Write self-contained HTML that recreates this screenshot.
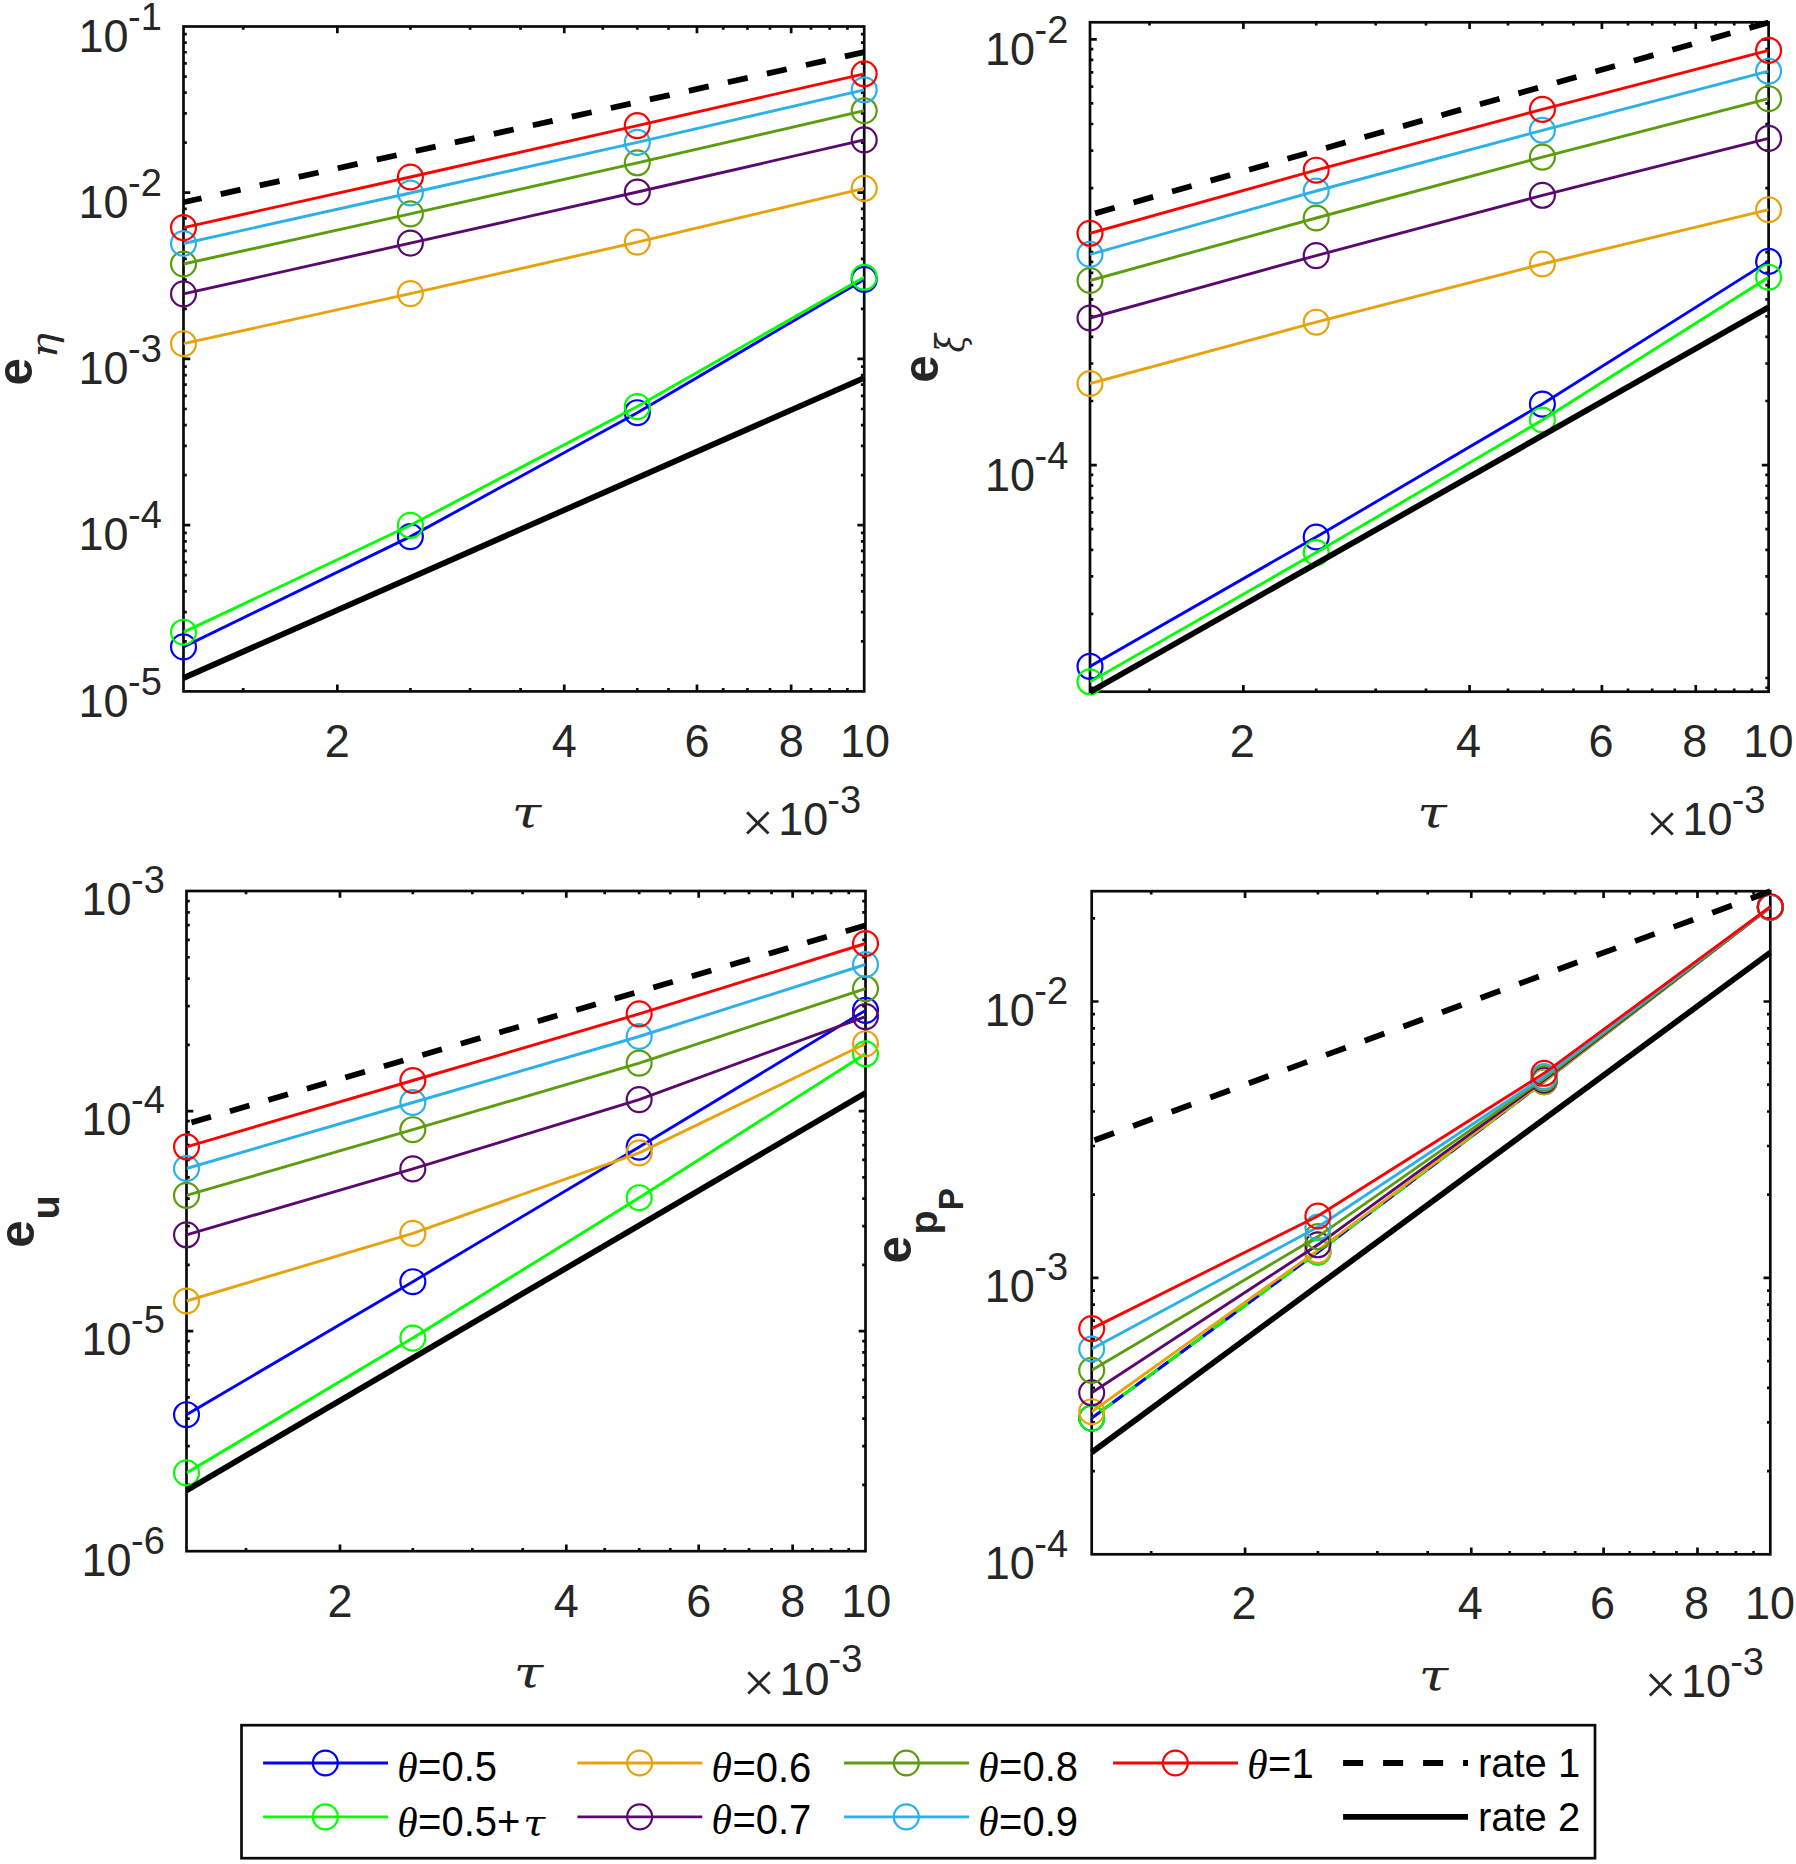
<!DOCTYPE html>
<html lang="en"><head><meta charset="utf-8"><title>Convergence rates</title>
<style>html,body{margin:0;padding:0;background:#fff}svg{display:block}</style></head><body>
<svg width="1796" height="1864" viewBox="0 0 1796 1864" role="img" aria-label="Convergence rates">
<rect width="1796" height="1864" fill="#fff"/>
<g id="plot1">
<clipPath id="c1"><rect x="183.5" y="26.5" width="680.7" height="664.9"/></clipPath>
<g stroke="#0a0a0a" stroke-width="2.7" fill="none">
<rect x="183.5" y="26.5" width="680.7" height="664.9"/>
<path d="M337.35 691.4v-6.8M337.35 26.5v6.8M564.25 691.4v-6.8M564.25 26.5v6.8M696.98 691.4v-6.8M696.98 26.5v6.8M791.15 691.4v-6.8M791.15 26.5v6.8M243.18 691.4v-3.3M243.18 26.5v3.3M410.4 691.4v-3.3M410.4 26.5v3.3M470.08 691.4v-3.3M470.08 26.5v3.3M520.54 691.4v-3.3M520.54 26.5v3.3M602.81 691.4v-3.3M602.81 26.5v3.3M637.3 691.4v-3.3M637.3 26.5v3.3M668.5 691.4v-3.3M668.5 26.5v3.3M723.18 691.4v-3.3M723.18 26.5v3.3M747.44 691.4v-3.3M747.44 26.5v3.3M770.03 691.4v-3.3M770.03 26.5v3.3M811 691.4v-3.3M811 26.5v3.3M829.71 691.4v-3.3M829.71 26.5v3.3M847.41 691.4v-3.3M847.41 26.5v3.3M183.5 641.36h3.3M864.2 641.36h-3.3M183.5 612.09h3.3M864.2 612.09h-3.3M183.5 591.32h3.3M864.2 591.32h-3.3M183.5 575.21h3.3M864.2 575.21h-3.3M183.5 562.05h3.3M864.2 562.05h-3.3M183.5 550.92h3.3M864.2 550.92h-3.3M183.5 541.28h3.3M864.2 541.28h-3.3M183.5 532.78h3.3M864.2 532.78h-3.3M183.5 525.17h6.8M864.2 525.17h-6.8M183.5 475.14h3.3M864.2 475.14h-3.3M183.5 445.87h3.3M864.2 445.87h-3.3M183.5 425.1h3.3M864.2 425.1h-3.3M183.5 408.99h3.3M864.2 408.99h-3.3M183.5 395.83h3.3M864.2 395.83h-3.3M183.5 384.7h3.3M864.2 384.7h-3.3M183.5 375.06h3.3M864.2 375.06h-3.3M183.5 366.56h3.3M864.2 366.56h-3.3M183.5 358.95h6.8M864.2 358.95h-6.8M183.5 308.91h3.3M864.2 308.91h-3.3M183.5 279.64h3.3M864.2 279.64h-3.3M183.5 258.87h3.3M864.2 258.87h-3.3M183.5 242.76h3.3M864.2 242.76h-3.3M183.5 229.6h3.3M864.2 229.6h-3.3M183.5 218.47h3.3M864.2 218.47h-3.3M183.5 208.83h3.3M864.2 208.83h-3.3M183.5 200.33h3.3M864.2 200.33h-3.3M183.5 192.72h6.8M864.2 192.72h-6.8M183.5 142.69h3.3M864.2 142.69h-3.3M183.5 113.42h3.3M864.2 113.42h-3.3M183.5 92.65h3.3M864.2 92.65h-3.3M183.5 76.54h3.3M864.2 76.54h-3.3M183.5 63.38h3.3M864.2 63.38h-3.3M183.5 52.25h3.3M864.2 52.25h-3.3M183.5 42.61h3.3M864.2 42.61h-3.3M183.5 34.11h3.3M864.2 34.11h-3.3"/>
</g>
<g fill="none">
<polyline clip-path="url(#c1)" points="183.5,646.9 410.4,536.6 637.3,412.7 864.2,279.4" stroke="#0000ff" stroke-width="2.9"/>
<g stroke="#0000ff" stroke-width="2.2">
<circle cx="183.5" cy="646.9" r="12.45"/>
<circle cx="410.4" cy="536.6" r="12.45"/>
<circle cx="637.3" cy="412.7" r="12.45"/>
<circle cx="864.2" cy="279.4" r="12.45"/>
</g>
<polyline clip-path="url(#c1)" points="183.5,632.2 410.4,525.3 637.3,406.6 864.2,277.3" stroke="#00ff00" stroke-width="2.9"/>
<g stroke="#00ff00" stroke-width="2.2">
<circle cx="183.5" cy="632.2" r="12.45"/>
<circle cx="410.4" cy="525.3" r="12.45"/>
<circle cx="637.3" cy="406.6" r="12.45"/>
<circle cx="864.2" cy="277.3" r="12.45"/>
</g>
<polyline clip-path="url(#c1)" points="183.5,343.7 410.4,293.6 637.3,242.1 864.2,188.4" stroke="#e8a20c" stroke-width="2.9"/>
<g stroke="#e8a20c" stroke-width="2.2">
<circle cx="183.5" cy="343.7" r="12.45"/>
<circle cx="410.4" cy="293.6" r="12.45"/>
<circle cx="637.3" cy="242.1" r="12.45"/>
<circle cx="864.2" cy="188.4" r="12.45"/>
</g>
<polyline clip-path="url(#c1)" points="183.5,293.9 410.4,243.1 637.3,192 864.2,139.9" stroke="#5a0a6e" stroke-width="2.9"/>
<g stroke="#5a0a6e" stroke-width="2.2">
<circle cx="183.5" cy="293.9" r="12.45"/>
<circle cx="410.4" cy="243.1" r="12.45"/>
<circle cx="637.3" cy="192" r="12.45"/>
<circle cx="864.2" cy="139.9" r="12.45"/>
</g>
<polyline clip-path="url(#c1)" points="183.5,264 410.4,213.9 637.3,162.8 864.2,110.7" stroke="#5b9d0c" stroke-width="2.9"/>
<g stroke="#5b9d0c" stroke-width="2.2">
<circle cx="183.5" cy="264" r="12.45"/>
<circle cx="410.4" cy="213.9" r="12.45"/>
<circle cx="637.3" cy="162.8" r="12.45"/>
<circle cx="864.2" cy="110.7" r="12.45"/>
</g>
<polyline clip-path="url(#c1)" points="183.5,243.5 410.4,193 637.3,142.4 864.2,89.8" stroke="#2bb0ea" stroke-width="2.9"/>
<g stroke="#2bb0ea" stroke-width="2.2">
<circle cx="183.5" cy="243.5" r="12.45"/>
<circle cx="410.4" cy="193" r="12.45"/>
<circle cx="637.3" cy="142.4" r="12.45"/>
<circle cx="864.2" cy="89.8" r="12.45"/>
</g>
<polyline clip-path="url(#c1)" points="183.5,227.6 410.4,177 637.3,125.6 864.2,73.8" stroke="#ff0000" stroke-width="2.9"/>
<g stroke="#ff0000" stroke-width="2.2">
<circle cx="183.5" cy="227.6" r="12.45"/>
<circle cx="410.4" cy="177" r="12.45"/>
<circle cx="637.3" cy="125.6" r="12.45"/>
<circle cx="864.2" cy="73.8" r="12.45"/>
</g>
</g>
<g fill="none" stroke="#000" stroke-width="5.8">
<line x1="183.5" y1="202.25" x2="864.2" y2="52.15" stroke-dasharray="20.29 19.66" stroke-dashoffset="1.85"/>
<line x1="183.5" y1="678" x2="864.2" y2="377.8"/>
</g>
<g font-family='"Liberation Sans", sans-serif' fill="#262626">
<text transform="translate(337.35 757) scale(1 1.041)" font-size="45" text-anchor="middle">2</text>
<text transform="translate(564.25 757) scale(1 1.041)" font-size="45" text-anchor="middle">4</text>
<text transform="translate(696.98 757) scale(1 1.041)" font-size="45" text-anchor="middle">6</text>
<text transform="translate(791.15 757) scale(1 1.041)" font-size="45" text-anchor="middle">8</text>
<text transform="translate(865 757) scale(1 1.041)" font-size="45" text-anchor="middle">10</text>
<text transform="translate(78.6 51.8) scale(1 1.041)" font-size="45">10</text>
<text transform="translate(128.1 29.8) scale(1 1.041)" font-size="38">-1</text>
<text transform="translate(78.6 218.03) scale(1 1.041)" font-size="45">10</text>
<text transform="translate(128.1 196.03) scale(1 1.041)" font-size="38">-2</text>
<text transform="translate(78.6 384.25) scale(1 1.041)" font-size="45">10</text>
<text transform="translate(128.1 362.25) scale(1 1.041)" font-size="38">-3</text>
<text transform="translate(78.6 550.47) scale(1 1.041)" font-size="45">10</text>
<text transform="translate(128.1 528.47) scale(1 1.041)" font-size="38">-4</text>
<text transform="translate(78.6 716.7) scale(1 1.041)" font-size="45">10</text>
<text transform="translate(128.1 694.7) scale(1 1.041)" font-size="38">-5</text>
<text transform="translate(741.4 842.4)" font-family='"Liberation Serif", serif' font-size="57.6">×</text>
<text transform="translate(778.2 835) scale(1 1.041)" font-size="45">10</text>
<text transform="translate(827.3 812.6) scale(1 1.041)" font-size="38">-3</text>
</g>
<text transform="translate(511.7 827) scale(1.25 1)" font-family='"DejaVu Serif", "Liberation Serif", serif' font-size="42.7" font-style="italic" fill="#262626">τ</text>
</g>
<g id="plot2">
<clipPath id="c2"><rect x="1090" y="22.3" width="678.6" height="669.4"/></clipPath>
<g stroke="#0a0a0a" stroke-width="2.7" fill="none">
<rect x="1090" y="22.3" width="678.6" height="669.4"/>
<path d="M1243.38 691.7v-6.8M1243.38 22.3v6.8M1469.58 691.7v-6.8M1469.58 22.3v6.8M1601.9 691.7v-6.8M1601.9 22.3v6.8M1695.78 691.7v-6.8M1695.78 22.3v6.8M1149.5 691.7v-3.3M1149.5 22.3v3.3M1316.2 691.7v-3.3M1316.2 22.3v3.3M1375.7 691.7v-3.3M1375.7 22.3v3.3M1426 691.7v-3.3M1426 22.3v3.3M1508.02 691.7v-3.3M1508.02 22.3v3.3M1542.4 691.7v-3.3M1542.4 22.3v3.3M1573.5 691.7v-3.3M1573.5 22.3v3.3M1628.02 691.7v-3.3M1628.02 22.3v3.3M1652.2 691.7v-3.3M1652.2 22.3v3.3M1674.72 691.7v-3.3M1674.72 22.3v3.3M1715.56 691.7v-3.3M1715.56 22.3v3.3M1734.22 691.7v-3.3M1734.22 22.3v3.3M1751.86 691.7v-3.3M1751.86 22.3v3.3M1090 687.74h3.3M1768.6 687.74h-3.3M1090 678h3.3M1768.6 678h-3.3M1090 613.91h3.3M1768.6 613.91h-3.3M1090 576.42h3.3M1768.6 576.42h-3.3M1090 549.82h3.3M1768.6 549.82h-3.3M1090 529.19h3.3M1768.6 529.19h-3.3M1090 512.33h3.3M1768.6 512.33h-3.3M1090 498.08h3.3M1768.6 498.08h-3.3M1090 485.73h3.3M1768.6 485.73h-3.3M1090 474.84h3.3M1768.6 474.84h-3.3M1090 465.1h6.8M1768.6 465.1h-6.8M1090 401.01h3.3M1768.6 401.01h-3.3M1090 363.52h3.3M1768.6 363.52h-3.3M1090 336.92h3.3M1768.6 336.92h-3.3M1090 316.29h3.3M1768.6 316.29h-3.3M1090 299.43h3.3M1768.6 299.43h-3.3M1090 285.18h3.3M1768.6 285.18h-3.3M1090 272.83h3.3M1768.6 272.83h-3.3M1090 261.94h3.3M1768.6 261.94h-3.3M1090 252.2h3.3M1768.6 252.2h-3.3M1090 188.11h3.3M1768.6 188.11h-3.3M1090 150.62h3.3M1768.6 150.62h-3.3M1090 124.02h3.3M1768.6 124.02h-3.3M1090 103.39h3.3M1768.6 103.39h-3.3M1090 86.53h3.3M1768.6 86.53h-3.3M1090 72.28h3.3M1768.6 72.28h-3.3M1090 59.93h3.3M1768.6 59.93h-3.3M1090 49.04h3.3M1768.6 49.04h-3.3M1090 39.3h6.8M1768.6 39.3h-6.8"/>
</g>
<g fill="none">
<polyline clip-path="url(#c2)" points="1090,666.4 1316.2,537 1542.4,404.1 1768.6,261.4" stroke="#0000ff" stroke-width="2.9"/>
<g stroke="#0000ff" stroke-width="2.2">
<circle cx="1090" cy="666.4" r="12.45"/>
<circle cx="1316.2" cy="537" r="12.45"/>
<circle cx="1542.4" cy="404.1" r="12.45"/>
<circle cx="1768.6" cy="261.4" r="12.45"/>
</g>
<polyline clip-path="url(#c2)" points="1090,681.8 1316.2,552.6 1542.4,420 1768.6,277.2" stroke="#00ff00" stroke-width="2.9"/>
<g stroke="#00ff00" stroke-width="2.2">
<circle cx="1090" cy="681.8" r="12.45"/>
<circle cx="1316.2" cy="552.6" r="12.45"/>
<circle cx="1542.4" cy="420" r="12.45"/>
<circle cx="1768.6" cy="277.2" r="12.45"/>
</g>
<polyline clip-path="url(#c2)" points="1090,383.5 1316.2,322.2 1542.4,264 1768.6,209.7" stroke="#e8a20c" stroke-width="2.9"/>
<g stroke="#e8a20c" stroke-width="2.2">
<circle cx="1090" cy="383.5" r="12.45"/>
<circle cx="1316.2" cy="322.2" r="12.45"/>
<circle cx="1542.4" cy="264" r="12.45"/>
<circle cx="1768.6" cy="209.7" r="12.45"/>
</g>
<polyline clip-path="url(#c2)" points="1090,318 1316.2,255.6 1542.4,195.3 1768.6,138.4" stroke="#5a0a6e" stroke-width="2.9"/>
<g stroke="#5a0a6e" stroke-width="2.2">
<circle cx="1090" cy="318" r="12.45"/>
<circle cx="1316.2" cy="255.6" r="12.45"/>
<circle cx="1542.4" cy="195.3" r="12.45"/>
<circle cx="1768.6" cy="138.4" r="12.45"/>
</g>
<polyline clip-path="url(#c2)" points="1090,280.5 1316.2,218 1542.4,157.1 1768.6,98.7" stroke="#5b9d0c" stroke-width="2.9"/>
<g stroke="#5b9d0c" stroke-width="2.2">
<circle cx="1090" cy="280.5" r="12.45"/>
<circle cx="1316.2" cy="218" r="12.45"/>
<circle cx="1542.4" cy="157.1" r="12.45"/>
<circle cx="1768.6" cy="98.7" r="12.45"/>
</g>
<polyline clip-path="url(#c2)" points="1090,254.4 1316.2,191 1542.4,130.3 1768.6,71.2" stroke="#2bb0ea" stroke-width="2.9"/>
<g stroke="#2bb0ea" stroke-width="2.2">
<circle cx="1090" cy="254.4" r="12.45"/>
<circle cx="1316.2" cy="191" r="12.45"/>
<circle cx="1542.4" cy="130.3" r="12.45"/>
<circle cx="1768.6" cy="71.2" r="12.45"/>
</g>
<polyline clip-path="url(#c2)" points="1090,233.3 1316.2,170.2 1542.4,109.4 1768.6,50.4" stroke="#ff0000" stroke-width="2.9"/>
<g stroke="#ff0000" stroke-width="2.2">
<circle cx="1090" cy="233.3" r="12.45"/>
<circle cx="1316.2" cy="170.2" r="12.45"/>
<circle cx="1542.4" cy="109.4" r="12.45"/>
<circle cx="1768.6" cy="50.4" r="12.45"/>
</g>
</g>
<g fill="none" stroke="#000" stroke-width="5.8">
<line x1="1090" y1="214.8" x2="1768.6" y2="22.5" stroke-dasharray="20.32 19.68" stroke-dashoffset="-5.3"/>
<line x1="1090" y1="691.9" x2="1768.6" y2="307.3"/>
</g>
<g font-family='"Liberation Sans", sans-serif' fill="#262626">
<text transform="translate(1242.38 757.3) scale(1 1.041)" font-size="45" text-anchor="middle">2</text>
<text transform="translate(1468.58 757.3) scale(1 1.041)" font-size="45" text-anchor="middle">4</text>
<text transform="translate(1600.9 757.3) scale(1 1.041)" font-size="45" text-anchor="middle">6</text>
<text transform="translate(1694.78 757.3) scale(1 1.041)" font-size="45" text-anchor="middle">8</text>
<text transform="translate(1768.4 757.3) scale(1 1.041)" font-size="45" text-anchor="middle">10</text>
<text transform="translate(985.1 64.8) scale(1 1.041)" font-size="45">10</text>
<text transform="translate(1034.6 42.8) scale(1 1.041)" font-size="38">-2</text>
<text transform="translate(985.1 490.6) scale(1 1.041)" font-size="45">10</text>
<text transform="translate(1034.6 468.6) scale(1 1.041)" font-size="38">-4</text>
<text transform="translate(1645.8 842.7)" font-family='"Liberation Serif", serif' font-size="57.6">×</text>
<text transform="translate(1682.6 835.3) scale(1 1.041)" font-size="45">10</text>
<text transform="translate(1731.7 812.9) scale(1 1.041)" font-size="38">-3</text>
</g>
<text transform="translate(1417.15 827.3) scale(1.25 1)" font-family='"DejaVu Serif", "Liberation Serif", serif' font-size="42.7" font-style="italic" fill="#262626">τ</text>
</g>
<g id="plot3">
<clipPath id="c3"><rect x="186.5" y="891" width="679" height="660.2"/></clipPath>
<g stroke="#0a0a0a" stroke-width="2.7" fill="none">
<rect x="186.5" y="891" width="679" height="660.2"/>
<path d="M339.97 1551.2v-6.8M339.97 891v6.8M566.3 1551.2v-6.8M566.3 891v6.8M698.7 1551.2v-6.8M698.7 891v6.8M792.64 1551.2v-6.8M792.64 891v6.8M246.03 1551.2v-3.3M246.03 891v3.3M412.83 1551.2v-3.3M412.83 891v3.3M472.37 1551.2v-3.3M472.37 891v3.3M522.7 1551.2v-3.3M522.7 891v3.3M604.76 1551.2v-3.3M604.76 891v3.3M639.17 1551.2v-3.3M639.17 891v3.3M670.29 1551.2v-3.3M670.29 891v3.3M724.84 1551.2v-3.3M724.84 891v3.3M749.03 1551.2v-3.3M749.03 891v3.3M771.56 1551.2v-3.3M771.56 891v3.3M812.43 1551.2v-3.3M812.43 891v3.3M831.1 1551.2v-3.3M831.1 891v3.3M848.75 1551.2v-3.3M848.75 891v3.3M186.5 1484.96h3.3M865.5 1484.96h-3.3M186.5 1446.21h3.3M865.5 1446.21h-3.3M186.5 1418.71h3.3M865.5 1418.71h-3.3M186.5 1397.39h3.3M865.5 1397.39h-3.3M186.5 1379.96h3.3M865.5 1379.96h-3.3M186.5 1365.23h3.3M865.5 1365.23h-3.3M186.5 1352.47h3.3M865.5 1352.47h-3.3M186.5 1341.21h3.3M865.5 1341.21h-3.3M186.5 1331.14h6.8M865.5 1331.14h-6.8M186.5 1264.89h3.3M865.5 1264.89h-3.3M186.5 1226.14h3.3M865.5 1226.14h-3.3M186.5 1198.64h3.3M865.5 1198.64h-3.3M186.5 1177.32h3.3M865.5 1177.32h-3.3M186.5 1159.89h3.3M865.5 1159.89h-3.3M186.5 1145.16h3.3M865.5 1145.16h-3.3M186.5 1132.4h3.3M865.5 1132.4h-3.3M186.5 1121.14h3.3M865.5 1121.14h-3.3M186.5 1111.07h6.8M865.5 1111.07h-6.8M186.5 1044.82h3.3M865.5 1044.82h-3.3M186.5 1006.07h3.3M865.5 1006.07h-3.3M186.5 978.57h3.3M865.5 978.57h-3.3M186.5 957.25h3.3M865.5 957.25h-3.3M186.5 939.82h3.3M865.5 939.82h-3.3M186.5 925.09h3.3M865.5 925.09h-3.3M186.5 912.33h3.3M865.5 912.33h-3.3M186.5 901.07h3.3M865.5 901.07h-3.3"/>
</g>
<g fill="none">
<polyline clip-path="url(#c3)" points="186.5,1414.7 412.83,1281.7 639.17,1147.1 865.5,1010.4" stroke="#0000ff" stroke-width="2.9"/>
<g stroke="#0000ff" stroke-width="2.2">
<circle cx="186.5" cy="1414.7" r="12.45"/>
<circle cx="412.83" cy="1281.7" r="12.45"/>
<circle cx="639.17" cy="1147.1" r="12.45"/>
<circle cx="865.5" cy="1010.4" r="12.45"/>
</g>
<polyline clip-path="url(#c3)" points="186.5,1472.9 412.83,1338.1 639.17,1197.7 865.5,1053.8" stroke="#00ff00" stroke-width="2.9"/>
<g stroke="#00ff00" stroke-width="2.2">
<circle cx="186.5" cy="1472.9" r="12.45"/>
<circle cx="412.83" cy="1338.1" r="12.45"/>
<circle cx="639.17" cy="1197.7" r="12.45"/>
<circle cx="865.5" cy="1053.8" r="12.45"/>
</g>
<polyline clip-path="url(#c3)" points="186.5,1301 412.83,1233.4 639.17,1152.9 865.5,1043.7" stroke="#e8a20c" stroke-width="2.9"/>
<g stroke="#e8a20c" stroke-width="2.2">
<circle cx="186.5" cy="1301" r="12.45"/>
<circle cx="412.83" cy="1233.4" r="12.45"/>
<circle cx="639.17" cy="1152.9" r="12.45"/>
<circle cx="865.5" cy="1043.7" r="12.45"/>
</g>
<polyline clip-path="url(#c3)" points="186.5,1234.8 412.83,1168.9 639.17,1099.6 865.5,1016.6" stroke="#5a0a6e" stroke-width="2.9"/>
<g stroke="#5a0a6e" stroke-width="2.2">
<circle cx="186.5" cy="1234.8" r="12.45"/>
<circle cx="412.83" cy="1168.9" r="12.45"/>
<circle cx="639.17" cy="1099.6" r="12.45"/>
<circle cx="865.5" cy="1016.6" r="12.45"/>
</g>
<polyline clip-path="url(#c3)" points="186.5,1195.4 412.83,1129.7 639.17,1063.1 865.5,988.7" stroke="#5b9d0c" stroke-width="2.9"/>
<g stroke="#5b9d0c" stroke-width="2.2">
<circle cx="186.5" cy="1195.4" r="12.45"/>
<circle cx="412.83" cy="1129.7" r="12.45"/>
<circle cx="639.17" cy="1063.1" r="12.45"/>
<circle cx="865.5" cy="988.7" r="12.45"/>
</g>
<polyline clip-path="url(#c3)" points="186.5,1168.5 412.83,1102.5 639.17,1036.5 865.5,964.5" stroke="#2bb0ea" stroke-width="2.9"/>
<g stroke="#2bb0ea" stroke-width="2.2">
<circle cx="186.5" cy="1168.5" r="12.45"/>
<circle cx="412.83" cy="1102.5" r="12.45"/>
<circle cx="639.17" cy="1036.5" r="12.45"/>
<circle cx="865.5" cy="964.5" r="12.45"/>
</g>
<polyline clip-path="url(#c3)" points="186.5,1146.8 412.83,1080.5 639.17,1013.9 865.5,943.5" stroke="#ff0000" stroke-width="2.9"/>
<g stroke="#ff0000" stroke-width="2.2">
<circle cx="186.5" cy="1146.8" r="12.45"/>
<circle cx="412.83" cy="1080.5" r="12.45"/>
<circle cx="639.17" cy="1013.9" r="12.45"/>
<circle cx="865.5" cy="943.5" r="12.45"/>
</g>
</g>
<g fill="none" stroke="#000" stroke-width="5.8">
<line x1="186.5" y1="1123.9" x2="865.5" y2="925.4" stroke-dasharray="20.37 19.73" stroke-dashoffset="-5.1"/>
<line x1="186.5" y1="1490.4" x2="865.5" y2="1092.9"/>
</g>
<g font-family='"Liberation Sans", sans-serif' fill="#262626">
<text transform="translate(339.97 1616.8) scale(1 1.041)" font-size="45" text-anchor="middle">2</text>
<text transform="translate(566.3 1616.8) scale(1 1.041)" font-size="45" text-anchor="middle">4</text>
<text transform="translate(698.7 1616.8) scale(1 1.041)" font-size="45" text-anchor="middle">6</text>
<text transform="translate(792.64 1616.8) scale(1 1.041)" font-size="45" text-anchor="middle">8</text>
<text transform="translate(866.3 1616.8) scale(1 1.041)" font-size="45" text-anchor="middle">10</text>
<text transform="translate(81.6 915.3) scale(1 1.041)" font-size="45">10</text>
<text transform="translate(131.1 893.3) scale(1 1.041)" font-size="38">-3</text>
<text transform="translate(81.6 1135.37) scale(1 1.041)" font-size="45">10</text>
<text transform="translate(131.1 1113.37) scale(1 1.041)" font-size="38">-4</text>
<text transform="translate(81.6 1355.44) scale(1 1.041)" font-size="45">10</text>
<text transform="translate(131.1 1333.44) scale(1 1.041)" font-size="38">-5</text>
<text transform="translate(81.6 1575.51) scale(1 1.041)" font-size="45">10</text>
<text transform="translate(131.1 1553.51) scale(1 1.041)" font-size="38">-6</text>
<text transform="translate(742.7 1702.2)" font-family='"Liberation Serif", serif' font-size="57.6">×</text>
<text transform="translate(779.5 1694.8) scale(1 1.041)" font-size="45">10</text>
<text transform="translate(828.6 1672.4) scale(1 1.041)" font-size="38">-3</text>
</g>
<text transform="translate(513.85 1686.8) scale(1.25 1)" font-family='"DejaVu Serif", "Liberation Serif", serif' font-size="42.7" font-style="italic" fill="#262626">τ</text>
</g>
<g id="plot4">
<clipPath id="c4"><rect x="1091.7" y="891.2" width="678.6" height="663.1"/></clipPath>
<g stroke="#0a0a0a" stroke-width="2.7" fill="none">
<rect x="1091.7" y="891.2" width="678.6" height="663.1"/>
<path d="M1245.08 1554.3v-6.8M1245.08 891.2v6.8M1471.28 1554.3v-6.8M1471.28 891.2v6.8M1603.6 1554.3v-6.8M1603.6 891.2v6.8M1697.48 1554.3v-6.8M1697.48 891.2v6.8M1151.2 1554.3v-3.3M1151.2 891.2v3.3M1317.9 1554.3v-3.3M1317.9 891.2v3.3M1377.4 1554.3v-3.3M1377.4 891.2v3.3M1427.7 1554.3v-3.3M1427.7 891.2v3.3M1509.72 1554.3v-3.3M1509.72 891.2v3.3M1544.1 1554.3v-3.3M1544.1 891.2v3.3M1575.2 1554.3v-3.3M1575.2 891.2v3.3M1629.72 1554.3v-3.3M1629.72 891.2v3.3M1653.9 1554.3v-3.3M1653.9 891.2v3.3M1676.42 1554.3v-3.3M1676.42 891.2v3.3M1717.26 1554.3v-3.3M1717.26 891.2v3.3M1735.92 1554.3v-3.3M1735.92 891.2v3.3M1753.56 1554.3v-3.3M1753.56 891.2v3.3M1091.7 1471.1h3.3M1770.3 1471.1h-3.3M1091.7 1422.42h3.3M1770.3 1422.42h-3.3M1091.7 1387.89h3.3M1770.3 1387.89h-3.3M1091.7 1361.1h3.3M1770.3 1361.1h-3.3M1091.7 1339.22h3.3M1770.3 1339.22h-3.3M1091.7 1320.71h3.3M1770.3 1320.71h-3.3M1091.7 1304.69h3.3M1770.3 1304.69h-3.3M1091.7 1290.55h3.3M1770.3 1290.55h-3.3M1091.7 1277.9h6.8M1770.3 1277.9h-6.8M1091.7 1194.7h3.3M1770.3 1194.7h-3.3M1091.7 1146.02h3.3M1770.3 1146.02h-3.3M1091.7 1111.49h3.3M1770.3 1111.49h-3.3M1091.7 1084.7h3.3M1770.3 1084.7h-3.3M1091.7 1062.82h3.3M1770.3 1062.82h-3.3M1091.7 1044.31h3.3M1770.3 1044.31h-3.3M1091.7 1028.29h3.3M1770.3 1028.29h-3.3M1091.7 1014.15h3.3M1770.3 1014.15h-3.3M1091.7 1001.5h6.8M1770.3 1001.5h-6.8M1091.7 918.3h3.3M1770.3 918.3h-3.3"/>
</g>
<g fill="none">
<polyline clip-path="url(#c4)" points="1091.7,1418.1 1317.9,1252 1544.1,1081.7 1770.3,907.2" stroke="#0000ff" stroke-width="2.9"/>
<g stroke="#0000ff" stroke-width="2.2">
<circle cx="1091.7" cy="1418.1" r="12.45"/>
<circle cx="1317.9" cy="1252" r="12.45"/>
<circle cx="1544.1" cy="1081.7" r="12.45"/>
<circle cx="1770.3" cy="907.2" r="12.45"/>
</g>
<polyline clip-path="url(#c4)" points="1091.7,1418.1 1317.9,1252 1544.1,1081.7 1770.3,907.2" stroke="#00ff00" stroke-width="2.9"/>
<polyline clip-path="url(#c4)" points="1091.7,1418.1 1317.9,1252 1544.1,1081.7" stroke="#0000ff" stroke-width="2.9" stroke-dasharray="13 15" stroke-dashoffset="2"/>
<g stroke="#00ff00" stroke-width="2.2">
<circle cx="1091.7" cy="1418.1" r="12.45"/>
<circle cx="1317.9" cy="1252" r="12.45"/>
<circle cx="1544.1" cy="1081.7" r="12.45"/>
<circle cx="1770.3" cy="907.2" r="12.45"/>
</g>
<polyline clip-path="url(#c4)" points="1091.7,1411.7 1317.9,1250.4 1544.1,1081.4 1770.3,907.2" stroke="#e8a20c" stroke-width="2.9"/>
<g stroke="#e8a20c" stroke-width="2.2">
<circle cx="1091.7" cy="1411.7" r="12.45"/>
<circle cx="1317.9" cy="1250.4" r="12.45"/>
<circle cx="1544.1" cy="1081.4" r="12.45"/>
<circle cx="1770.3" cy="907.2" r="12.45"/>
</g>
<polyline clip-path="url(#c4)" points="1091.7,1392.8 1317.9,1244.8 1544.1,1080.1 1770.3,907.2" stroke="#5a0a6e" stroke-width="2.9"/>
<g stroke="#5a0a6e" stroke-width="2.2">
<circle cx="1091.7" cy="1392.8" r="12.45"/>
<circle cx="1317.9" cy="1244.8" r="12.45"/>
<circle cx="1544.1" cy="1080.1" r="12.45"/>
<circle cx="1770.3" cy="907.2" r="12.45"/>
</g>
<polyline clip-path="url(#c4)" points="1091.7,1370.3 1317.9,1236.6 1544.1,1078.5 1770.3,907.2" stroke="#5b9d0c" stroke-width="2.9"/>
<g stroke="#5b9d0c" stroke-width="2.2">
<circle cx="1091.7" cy="1370.3" r="12.45"/>
<circle cx="1317.9" cy="1236.6" r="12.45"/>
<circle cx="1544.1" cy="1078.5" r="12.45"/>
<circle cx="1770.3" cy="907.2" r="12.45"/>
</g>
<polyline clip-path="url(#c4)" points="1091.7,1349 1317.9,1227 1544.1,1076.6 1770.3,907" stroke="#2bb0ea" stroke-width="2.9"/>
<g stroke="#2bb0ea" stroke-width="2.2">
<circle cx="1091.7" cy="1349" r="12.45"/>
<circle cx="1317.9" cy="1227" r="12.45"/>
<circle cx="1544.1" cy="1076.6" r="12.45"/>
<circle cx="1770.3" cy="907" r="12.45"/>
</g>
<polyline clip-path="url(#c4)" points="1091.7,1328.6 1317.9,1216 1544.1,1073.3 1770.3,906.7" stroke="#ff0000" stroke-width="2.9"/>
<g stroke="#ff0000" stroke-width="2.2">
<circle cx="1091.7" cy="1328.6" r="12.45"/>
<circle cx="1317.9" cy="1216" r="12.45"/>
<circle cx="1544.1" cy="1073.3" r="12.45"/>
<circle cx="1770.3" cy="906.7" r="12.45"/>
</g>
</g>
<g fill="none" stroke="#000" stroke-width="5.8">
<line x1="1091.7" y1="1141.2" x2="1770.3" y2="891.3" stroke-dasharray="20.9 20.25" stroke-dashoffset="-2.9"/>
<line x1="1091.7" y1="1452.3" x2="1770.3" y2="952.5"/>
</g>
<g font-family='"Liberation Sans", sans-serif' fill="#262626">
<text transform="translate(1244.08 1618.9) scale(1 1.041)" font-size="45" text-anchor="middle">2</text>
<text transform="translate(1470.28 1618.9) scale(1 1.041)" font-size="45" text-anchor="middle">4</text>
<text transform="translate(1602.6 1618.9) scale(1 1.041)" font-size="45" text-anchor="middle">6</text>
<text transform="translate(1696.48 1618.9) scale(1 1.041)" font-size="45" text-anchor="middle">8</text>
<text transform="translate(1770.1 1618.9) scale(1 1.041)" font-size="45" text-anchor="middle">10</text>
<text transform="translate(984.8 1025.8) scale(1 1.041)" font-size="45">10</text>
<text transform="translate(1034.3 1003.8) scale(1 1.041)" font-size="38">-2</text>
<text transform="translate(984.8 1302.2) scale(1 1.041)" font-size="45">10</text>
<text transform="translate(1034.3 1280.2) scale(1 1.041)" font-size="38">-3</text>
<text transform="translate(984.8 1578.6) scale(1 1.041)" font-size="45">10</text>
<text transform="translate(1034.3 1556.6) scale(1 1.041)" font-size="38">-4</text>
<text transform="translate(1644.3 1704.3)" font-family='"Liberation Serif", serif' font-size="57.6">×</text>
<text transform="translate(1681.1 1696.9) scale(1 1.041)" font-size="45">10</text>
<text transform="translate(1730.2 1674.5) scale(1 1.041)" font-size="38">-3</text>
</g>
<text transform="translate(1418.85 1689.9) scale(1.25 1)" font-family='"DejaVu Serif", "Liberation Serif", serif' font-size="42.7" font-style="italic" fill="#262626">τ</text>
</g>
<text transform="translate(31.6 385.5) rotate(-90)" font-family='"Liberation Sans", sans-serif' font-size="49.5" font-weight="bold" fill="#262626">e</text>
<text transform="translate(57.3 358.3) rotate(-90) scale(1.17 1)" font-family='"DejaVu Serif", "Liberation Serif", serif' font-size="36" font-style="italic" fill="#262626">η</text>
<text transform="translate(937.6 382.7) rotate(-90)" font-family='"Liberation Sans", sans-serif' font-size="49.5" font-weight="bold" fill="#262626">e</text>
<text transform="translate(963.6 352.4) rotate(-90) scale(0.875 1)" font-family='"DejaVu Serif", "Liberation Serif", serif' font-size="38.5" font-style="italic" fill="#262626">ξ</text>
<text transform="translate(33.6 1247.8) rotate(-90)" font-family='"Liberation Sans", sans-serif' font-size="49.5" font-weight="bold" fill="#262626">e</text>
<text transform="translate(59.2 1219.4) rotate(-90)" font-family='"Liberation Sans", sans-serif' font-size="39.6" font-weight="bold" fill="#262626">u</text>
<text transform="translate(911.4 1263.4) rotate(-90)" font-family='"Liberation Sans", sans-serif' font-size="49.5" font-weight="bold" fill="#262626">e</text>
<text transform="translate(936.8 1234.4) rotate(-90)" font-family='"Liberation Sans", sans-serif' font-size="39.6" font-weight="bold" fill="#262626">p</text>
<text transform="translate(962.9 1210.2) rotate(-90) scale(1 1.06)" font-family='"Liberation Sans", sans-serif' font-size="33" font-weight="bold" fill="#262626">P</text>
<g id="legend">
<rect x="241.5" y="1725.2" width="1353.5" height="133" fill="#fff" stroke="#0a0a0a" stroke-width="2.7"/>
<line x1="263.1" y1="1763" x2="388" y2="1763" stroke="#0000ff" stroke-width="2.9"/>
<circle cx="325.35" cy="1763" r="12.45" fill="none" stroke="#0000ff" stroke-width="2.2"/>
<text transform="translate(397.2 1781.5)" font-family='"Liberation Serif", serif' font-size="41.5" font-style="italic" fill="#000">θ</text>
<text transform="translate(418.1 1781) scale(1 1.041)" font-family='"Liberation Sans", sans-serif' font-size="40" fill="#000">=0.5</text>
<line x1="263.1" y1="1816.9" x2="388" y2="1816.9" stroke="#00ff00" stroke-width="2.9"/>
<circle cx="325.35" cy="1816.9" r="12.45" fill="none" stroke="#00ff00" stroke-width="2.2"/>
<text transform="translate(397.2 1836.5)" font-family='"Liberation Serif", serif' font-size="41.5" font-style="italic" fill="#000">θ</text>
<text transform="translate(418.1 1836) scale(1 1.041)" font-family='"Liberation Sans", sans-serif' font-size="40" fill="#000">=0.5+</text>
<text transform="translate(523.26 1836) scale(1.143 1)" font-family='"DejaVu Serif", "Liberation Serif", serif' font-size="35" font-style="italic" fill="#000">τ</text>
<line x1="577.4" y1="1763" x2="702.3" y2="1763" stroke="#e8a20c" stroke-width="2.9"/>
<circle cx="639.65" cy="1763" r="12.45" fill="none" stroke="#e8a20c" stroke-width="2.2"/>
<text transform="translate(711.5 1782)" font-family='"Liberation Serif", serif' font-size="41.5" font-style="italic" fill="#000">θ</text>
<text transform="translate(732.4 1781.5) scale(1 1.041)" font-family='"Liberation Sans", sans-serif' font-size="40" fill="#000">=0.6</text>
<line x1="577.4" y1="1816.9" x2="702.3" y2="1816.9" stroke="#5a0a6e" stroke-width="2.9"/>
<circle cx="639.65" cy="1816.9" r="12.45" fill="none" stroke="#5a0a6e" stroke-width="2.2"/>
<text transform="translate(711.5 1834.2)" font-family='"Liberation Serif", serif' font-size="41.5" font-style="italic" fill="#000">θ</text>
<text transform="translate(732.4 1833.7) scale(1 1.041)" font-family='"Liberation Sans", sans-serif' font-size="40" fill="#000">=0.7</text>
<line x1="844.1" y1="1763" x2="969" y2="1763" stroke="#5b9d0c" stroke-width="2.9"/>
<circle cx="906.35" cy="1763" r="12.45" fill="none" stroke="#5b9d0c" stroke-width="2.2"/>
<text transform="translate(978.2 1781.5)" font-family='"Liberation Serif", serif' font-size="41.5" font-style="italic" fill="#000">θ</text>
<text transform="translate(999.1 1781) scale(1 1.041)" font-family='"Liberation Sans", sans-serif' font-size="40" fill="#000">=0.8</text>
<line x1="844.1" y1="1816.9" x2="969" y2="1816.9" stroke="#2bb0ea" stroke-width="2.9"/>
<circle cx="906.35" cy="1816.9" r="12.45" fill="none" stroke="#2bb0ea" stroke-width="2.2"/>
<text transform="translate(978.2 1836)" font-family='"Liberation Serif", serif' font-size="41.5" font-style="italic" fill="#000">θ</text>
<text transform="translate(999.1 1835.5) scale(1 1.041)" font-family='"Liberation Sans", sans-serif' font-size="40" fill="#000">=0.9</text>
<line x1="1113.1" y1="1763" x2="1238" y2="1763" stroke="#ff0000" stroke-width="2.9"/>
<circle cx="1175.35" cy="1763" r="12.45" fill="none" stroke="#ff0000" stroke-width="2.2"/>
<text transform="translate(1247.2 1778.6)" font-family='"Liberation Serif", serif' font-size="41.5" font-style="italic" fill="#000">θ</text>
<text transform="translate(1268.1 1778.1) scale(1 1.041)" font-family='"Liberation Sans", sans-serif' font-size="40" fill="#000">=1</text>
<line x1="1343.1" y1="1763" x2="1468" y2="1763" stroke="#000" stroke-width="5.8" stroke-dasharray="20 20"/>
<line x1="1343.1" y1="1816.9" x2="1468" y2="1816.9" stroke="#000" stroke-width="5.8"/>
<text transform="translate(1477.9 1776.9)" font-family='"Liberation Sans", sans-serif' font-size="40" fill="#000">rate 1</text>
<text transform="translate(1477.9 1831.4)" font-family='"Liberation Sans", sans-serif' font-size="40" fill="#000">rate 2</text>
</g>
</svg></body></html>
